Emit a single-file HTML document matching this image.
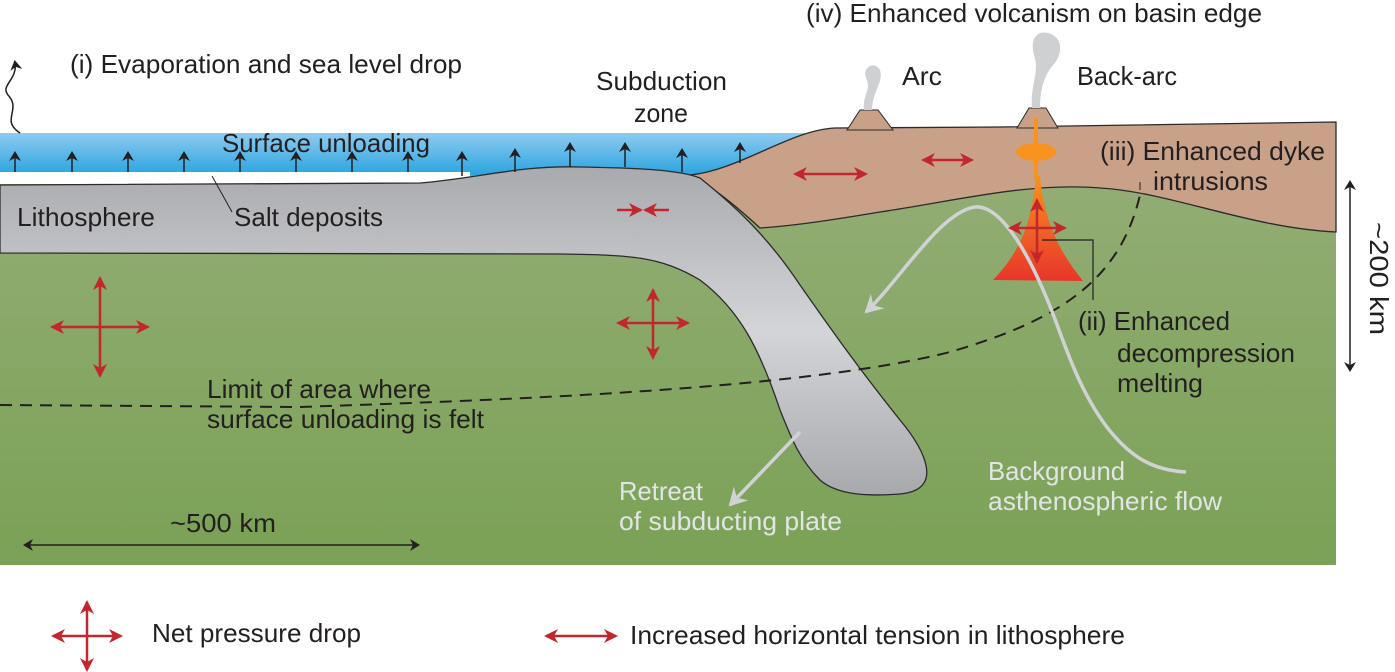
<!DOCTYPE html>
<html><head><meta charset="utf-8"><style>
html,body{margin:0;padding:0;background:#fff;}
svg{display:block;}
text{font-family:"Liberation Sans",sans-serif;font-size:26px;fill:#231f20;}
</style></head><body>
<svg width="1395" height="672" viewBox="0 0 1395 672" xmlns="http://www.w3.org/2000/svg">
<defs>
<linearGradient id="wat" x1="0" y1="0" x2="0" y2="1"><stop offset="0" stop-color="#8ecbf0"/><stop offset="1" stop-color="#2aa4e0"/></linearGradient>
<linearGradient id="grn" x1="0" y1="0" x2="0" y2="1"><stop offset="0" stop-color="#93ad75"/><stop offset="1" stop-color="#7aa155"/></linearGradient>
<linearGradient id="gry" x1="0" y1="0" x2="0" y2="1"><stop offset="0" stop-color="#a9aaae"/><stop offset="0.5" stop-color="#d4d5d8"/><stop offset="1" stop-color="#a8a9ad"/></linearGradient>
<linearGradient id="mag" x1="0" y1="0" x2="0" y2="1"><stop offset="0" stop-color="#f7931e"/><stop offset="1" stop-color="#e8352a"/></linearGradient>
<marker id="ar" markerWidth="14" markerHeight="14" refX="12" refY="7" orient="auto" markerUnits="userSpaceOnUse"><path d="M0,0 L14,7 L0,14 L4,7z" fill="#c1272d"/></marker>
<marker id="ab" markerWidth="10" markerHeight="12" refX="8" refY="6" orient="auto" markerUnits="userSpaceOnUse"><path d="M0,0 L10,6 L0,12 L3,6z" fill="#231f20"/></marker>
<marker id="ag" markerWidth="20" markerHeight="20" refX="16" refY="10" orient="auto" markerUnits="userSpaceOnUse"><path d="M0,0 L18,10 L0,20 L6,10z" fill="#d0d2d4"/></marker>
</defs>
<rect x="0" y="175" width="1336" height="390" fill="url(#grn)"/>
<path d="M0,133 L830,133 C780,140 740,172 690,175 L0,175 Z" fill="url(#wat)"/>
<rect x="0" y="172" width="470" height="12" fill="#fff"/>
<path d="M690,175 C740,170 790,130 835,128 L1000,127 L1336,122 L1336,232 C1250,228 1170,192 1100,188 C1030,182 960,200 880,212 C820,222 790,226 760,228 C735,205 710,185 690,175 Z" fill="#c9a189" stroke="#2b2b2b" stroke-width="1.3"/>
<path d="M0,185 L420,183 C480,178 520,165 580,167 C640,168 680,170 700,178 C740,210 770,240 800,285 C835,335 860,370 900,420 C925,450 945,490 900,494 C860,497 835,493 820,480 C800,460 792,440 780,410 C760,350 740,310 700,280 C660,256 630,255 560,254 L0,253 Z" fill="url(#gry)" stroke="#2b2b2b" stroke-width="1.3"/>
<path d="M847,130 L860,110 L878,110 L893,130 Z" fill="#c9a189" stroke="#2b2b2b" stroke-width="1"/>
<path d="M1017,128 L1029,108 L1046,108 L1058,128 Z" fill="#c9a189" stroke="#2b2b2b" stroke-width="1"/>
<path d="M864,110 C862,95 872,90 866,78 C862,68 874,60 880,70 C884,82 872,92 872,110Z" fill="#cfd0d2"/>
<path d="M1032,108 C1030,85 1040,72 1034,55 C1030,40 1036,30 1048,33 C1064,37 1062,55 1054,64 C1044,75 1040,90 1040,108Z" fill="#cfd0d2"/>
<rect x="1034" y="118" width="4" height="62" fill="#f7931e"/>
<ellipse cx="1036" cy="152" rx="20" ry="9" fill="#f7931e"/>
<path d="M1036,176 C1032,220 1022,250 993,280 L1083,281 C1058,250 1044,220 1040,176 Z" fill="url(#mag)"/>
<path d="M0,405 L300,407 C500,400 800,390 950,352 C1060,320 1120,280 1140,195" fill="none" stroke="#231f20" stroke-width="2" stroke-dasharray="12,8"/>
<path d="M1186,472 C1150,470 1130,455 1110,431 C1085,400 1070,360 1059,330 C1030,250 1000,205 975,207 C940,212 900,280 866,312" fill="none" stroke="#d0d2d4" stroke-width="3.5" marker-end="url(#ag)"/>
<line x1="800" y1="432" x2="730" y2="505" stroke="#d0d2d4" stroke-width="3.5" marker-end="url(#ag)"/>
<path d="M212,176 L232,212" stroke="#231f20" stroke-width="1"/>
<path d="M1042,240 L1093,240 L1093,300" fill="none" stroke="#231f20" stroke-width="1.2"/>
<line x1="1140" y1="182" x2="1140" y2="190" stroke="#231f20" stroke-width="1"/>
<g stroke="#231f20" stroke-width="1.5" marker-end="url(#ab)">
<line x1="15" y1="172" x2="15" y2="153"/><line x1="72" y1="172" x2="72" y2="153"/><line x1="128" y1="172" x2="128" y2="153"/><line x1="184" y1="172" x2="184" y2="153"/><line x1="240" y1="172" x2="240" y2="153"/><line x1="296" y1="172" x2="296" y2="153"/><line x1="352" y1="172" x2="352" y2="153"/><line x1="408" y1="172" x2="408" y2="153"/><line x1="462" y1="176" x2="462" y2="153"/><line x1="515" y1="172" x2="515" y2="150"/><line x1="570" y1="167" x2="570" y2="144"/><line x1="625" y1="167" x2="625" y2="144"/><line x1="682" y1="172" x2="682" y2="150"/><line x1="740" y1="163" x2="740" y2="144"/>
</g>
<path d="M20,133 C0,120 22,110 8,95 C0,85 18,80 15,62" fill="none" stroke="#231f20" stroke-width="1.5" marker-end="url(#ab)"/>
<g stroke="#c1272d" stroke-width="2.5" fill="none">
<line x1="100" y1="327" x2="52" y2="327" marker-end="url(#ar)"/><line x1="100" y1="327" x2="148" y2="327" marker-end="url(#ar)"/>
<line x1="100" y1="327" x2="100" y2="278" marker-end="url(#ar)"/><line x1="100" y1="327" x2="100" y2="376" marker-end="url(#ar)"/>
<line x1="653" y1="323" x2="618" y2="323" marker-end="url(#ar)"/><line x1="653" y1="323" x2="688" y2="323" marker-end="url(#ar)"/>
<line x1="653" y1="323" x2="653" y2="290" marker-end="url(#ar)"/><line x1="653" y1="323" x2="653" y2="358" marker-end="url(#ar)"/>
<line x1="617" y1="210" x2="641" y2="210" marker-end="url(#ar)"/><line x1="669" y1="210" x2="645" y2="210" marker-end="url(#ar)"/>
<line x1="830" y1="174" x2="795" y2="174" marker-end="url(#ar)"/><line x1="830" y1="174" x2="866" y2="174" marker-end="url(#ar)"/>
<line x1="947" y1="160" x2="923" y2="160" marker-end="url(#ar)"/><line x1="947" y1="160" x2="972" y2="160" marker-end="url(#ar)"/>
<line x1="1037" y1="228" x2="1010" y2="228" marker-end="url(#ar)"/><line x1="1037" y1="228" x2="1065" y2="228" marker-end="url(#ar)"/>
<line x1="1037" y1="228" x2="1037" y2="200" marker-end="url(#ar)"/><line x1="1037" y1="228" x2="1037" y2="262" marker-end="url(#ar)"/>
<line x1="87" y1="636" x2="53" y2="636" marker-end="url(#ar)"/><line x1="87" y1="636" x2="121" y2="636" marker-end="url(#ar)"/>
<line x1="87" y1="636" x2="87" y2="602" marker-end="url(#ar)"/><line x1="87" y1="636" x2="87" y2="670" marker-end="url(#ar)"/>
<line x1="581" y1="636" x2="546" y2="636" marker-end="url(#ar)"/><line x1="581" y1="636" x2="616" y2="636" marker-end="url(#ar)"/>
</g>
<g stroke="#231f20" stroke-width="1.5">
<line x1="222" y1="545" x2="25" y2="545" marker-end="url(#ab)"/><line x1="222" y1="545" x2="418" y2="545" marker-end="url(#ab)"/>
<line x1="1350" y1="276" x2="1350" y2="182" marker-end="url(#ab)"/><line x1="1350" y1="276" x2="1350" y2="370" marker-end="url(#ab)"/>
</g>
<g lengthAdjust="spacingAndGlyphs">
<text x="70" y="73" textLength="392" lengthAdjust="spacingAndGlyphs">(i) Evaporation and sea level drop</text>
<text x="596" y="90" textLength="131" lengthAdjust="spacingAndGlyphs">Subduction</text>
<text x="634" y="122" textLength="54" lengthAdjust="spacingAndGlyphs">zone</text>
<text x="806" y="22" textLength="456" lengthAdjust="spacingAndGlyphs">(iv) Enhanced volcanism on basin edge</text>
<text x="902" y="85" textLength="40" lengthAdjust="spacingAndGlyphs">Arc</text>
<text x="1077" y="85" textLength="100" lengthAdjust="spacingAndGlyphs">Back-arc</text>
<text x="222" y="152" textLength="208" lengthAdjust="spacingAndGlyphs">Surface unloading</text>
<text x="1100" y="160" textLength="225" lengthAdjust="spacingAndGlyphs">(iii) Enhanced dyke</text>
<text x="1153" y="190" textLength="115" lengthAdjust="spacingAndGlyphs">intrusions</text>
<text x="17" y="226" textLength="138" lengthAdjust="spacingAndGlyphs">Lithosphere</text>
<text x="234" y="226" textLength="149" lengthAdjust="spacingAndGlyphs">Salt deposits</text>
<text x="1078" y="330" textLength="152" lengthAdjust="spacingAndGlyphs">(ii) Enhanced</text>
<text x="1117" y="362" textLength="178" lengthAdjust="spacingAndGlyphs">decompression</text>
<text x="1117" y="392" textLength="86" lengthAdjust="spacingAndGlyphs">melting</text>
<text x="207" y="398" textLength="224" lengthAdjust="spacingAndGlyphs">Limit of area where</text>
<text x="207" y="428" textLength="277" lengthAdjust="spacingAndGlyphs">surface unloading is felt</text>
<text x="988" y="480" textLength="137" lengthAdjust="spacingAndGlyphs" style="fill:#e2e4e6">Background</text>
<text x="988" y="510" textLength="234" lengthAdjust="spacingAndGlyphs" style="fill:#e2e4e6">asthenospheric flow</text>
<text x="619" y="500" textLength="84" lengthAdjust="spacingAndGlyphs" style="fill:#e2e4e6">Retreat</text>
<text x="619" y="530" textLength="223" lengthAdjust="spacingAndGlyphs" style="fill:#e2e4e6">of subducting plate</text>
<text x="170" y="532" textLength="106" lengthAdjust="spacingAndGlyphs">~500 km</text>
<text transform="translate(1370,222) rotate(90)" textLength="113" lengthAdjust="spacingAndGlyphs">~200 km</text>
<text x="152" y="642" textLength="209" lengthAdjust="spacingAndGlyphs">Net pressure drop</text>
<text x="630" y="644" textLength="495" lengthAdjust="spacingAndGlyphs">Increased horizontal tension in lithosphere</text>
</g>
</svg>
</body></html>
